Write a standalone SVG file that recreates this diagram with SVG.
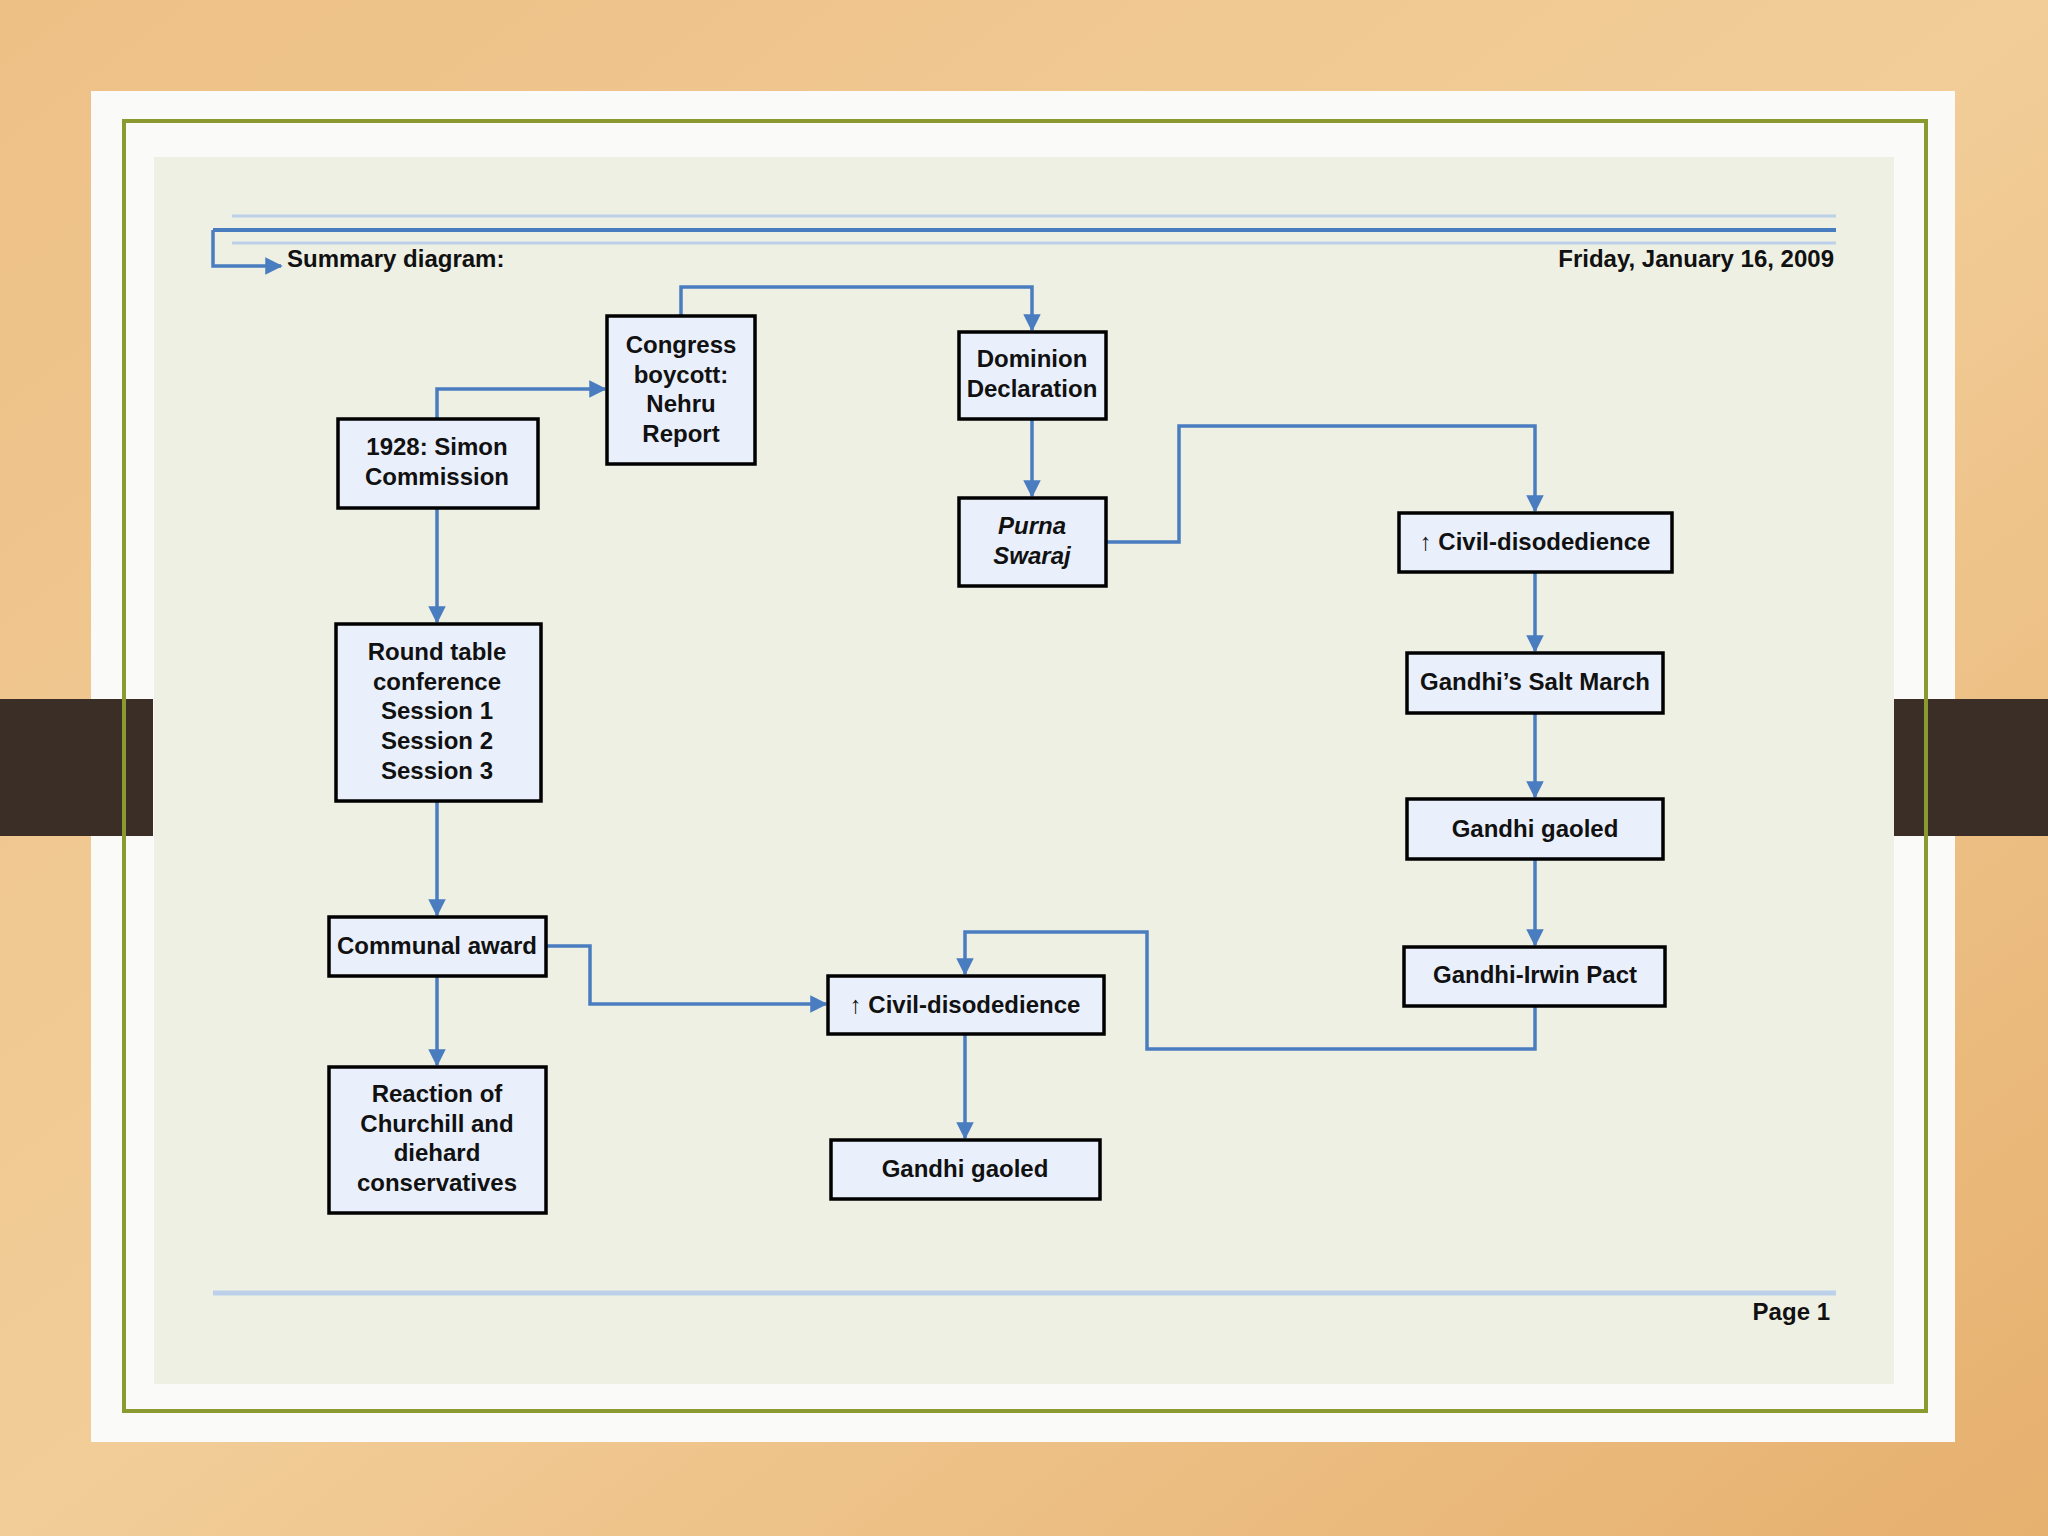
<svg xmlns="http://www.w3.org/2000/svg" width="2048" height="1536" viewBox="0 0 2048 1536">
<defs>
<linearGradient id="wood" x1="0" y1="0" x2="1" y2="1"><stop offset="0" stop-color="#edc086"/><stop offset="0.5" stop-color="#f2cd98"/><stop offset="1" stop-color="#e6b06e"/></linearGradient>
<marker id="ar" viewBox="0 0 10 10" refX="9" refY="5" markerWidth="5" markerHeight="5" orient="auto"><path d="M0,0L10,5L0,10z" fill="#4a7cc0"/></marker>
<style>
.b{fill:#eaf0fb;stroke:#000;stroke-width:3.5}
.t{font-family:"Liberation Sans",Arial,sans-serif;font-weight:bold;font-size:24px;text-anchor:middle;fill:#111}
.c{fill:none;stroke:#4a7cc0;stroke-width:3.5;marker-end:url(#ar)}
</style>
</defs>
<rect width="2048" height="1536" fill="url(#wood)"/>
<rect x="91" y="91" width="1864" height="1351" fill="#fafaf8"/>
<rect x="0" y="699" width="153" height="137" fill="#3a2e26"/>
<rect x="1894" y="699" width="154" height="137" fill="#3a2e26"/>
<rect x="124" y="121" width="1802" height="1290" fill="none" stroke="#8a9a30" stroke-width="4"/>
<rect x="154" y="157" width="1740" height="1227" fill="#eef0e4"/>
<line x1="232" y1="216" x2="1836" y2="216" stroke="#bcd0ea" stroke-width="3"/>
<line x1="232" y1="243" x2="1836" y2="243" stroke="#bcd0ea" stroke-width="3"/>
<line x1="213" y1="230" x2="1836" y2="230" stroke="#4a7cc0" stroke-width="4"/>
<line x1="213" y1="1293" x2="1836" y2="1293" stroke="#bcd0ea" stroke-width="5"/>
<path class="c" d="M213,230V266H281"/>
<text class="t" x="287" y="267" style="text-anchor:start">Summary diagram:</text>
<text class="t" x="1834" y="267" style="text-anchor:end">Friday, January 16, 2009</text>
<text class="t" x="1830" y="1320" style="text-anchor:end">Page 1</text>
<g id="connectors">
<path class="c" d="M437,419V389H605"/>
<path class="c" d="M681,316V287H1032V330"/>
<path class="c" d="M1032,419V496"/>
<path class="c" d="M1106,542H1179V426H1535V511"/>
<path class="c" d="M1535,572V651"/>
<path class="c" d="M1535,713V797"/>
<path class="c" d="M1535,859V945"/>
<path class="c" d="M1535,1006V1049H1147V932H965V974"/>
<path class="c" d="M437,508V622"/>
<path class="c" d="M437,801V915"/>
<path class="c" d="M546,946H590V1004H826"/>
<path class="c" d="M437,976V1065"/>
<path class="c" d="M965,1034V1138"/>
</g>
<g id="congress"><rect class="b" x="607" y="316" width="148" height="148"/><text class="t" x="681" y="353">Congress</text><text class="t" x="681" y="383">boycott:</text><text class="t" x="681" y="412">Nehru</text><text class="t" x="681" y="442">Report</text></g>
<g id="dominion"><rect class="b" x="959" y="332" width="147" height="87"/><text class="t" x="1032" y="367">Dominion</text><text class="t" x="1032" y="397">Declaration</text></g>
<g id="simon"><rect class="b" x="338" y="419" width="200" height="89"/><text class="t" x="437" y="455">1928: Simon</text><text class="t" x="437" y="485">Commission</text></g>
<g id="purna"><rect class="b" x="959" y="498" width="147" height="88"/><text class="t" x="1032" y="534" font-style="italic">Purna</text><text class="t" x="1032" y="564" font-style="italic">Swaraj</text></g>
<g id="civil1"><rect class="b" x="1399" y="513" width="273" height="59"/><text class="t" x="1535" y="550">↑ Civil-disodedience</text></g>
<g id="round"><rect class="b" x="336" y="624" width="205" height="177"/><text class="t" x="437" y="660">Round table</text><text class="t" x="437" y="690">conference</text><text class="t" x="437" y="719">Session 1</text><text class="t" x="437" y="749">Session 2</text><text class="t" x="437" y="779">Session 3</text></g>
<g id="salt"><rect class="b" x="1407" y="653" width="256" height="60"/><text class="t" x="1535" y="690">Gandhi’s Salt March</text></g>
<g id="gaoled1"><rect class="b" x="1407" y="799" width="256" height="60"/><text class="t" x="1535" y="837">Gandhi gaoled</text></g>
<g id="communal"><rect class="b" x="329" y="917" width="217" height="59"/><text class="t" x="437" y="954">Communal award</text></g>
<g id="irwin"><rect class="b" x="1404" y="947" width="261" height="59"/><text class="t" x="1535" y="983">Gandhi-Irwin Pact</text></g>
<g id="civil2"><rect class="b" x="828" y="976" width="276" height="58"/><text class="t" x="965" y="1013">↑ Civil-disodedience</text></g>
<g id="reaction"><rect class="b" x="329" y="1067" width="217" height="146"/><text class="t" x="437" y="1102">Reaction of</text><text class="t" x="437" y="1132">Churchill and</text><text class="t" x="437" y="1161">diehard</text><text class="t" x="437" y="1191">conservatives</text></g>
<g id="gaoled2"><rect class="b" x="831" y="1140" width="269" height="59"/><text class="t" x="965" y="1177">Gandhi gaoled</text></g>
</svg>
